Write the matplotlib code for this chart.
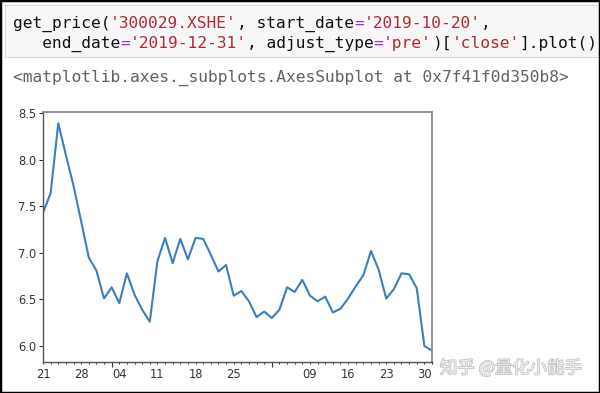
import matplotlib
matplotlib.use('Agg')
import matplotlib.pyplot as plt
import matplotlib.patheffects as pe
from matplotlib.patches import Rectangle
import pandas as pd

# ================================================================================== #
' Data '

dates = pd.bdate_range('2019-10-21', '2019-12-31')   # trading days shown on the axis
close = [7.43, 7.64, 8.39, 8.05, 7.72, 7.34, 6.95, 6.81, 6.51, 6.63,
         6.46, 6.78, 6.55, 6.39, 6.26, 6.91, 7.16, 6.89, 7.15, 6.93,
         7.16, 7.15, 6.98, 6.80, 6.87, 6.54, 6.59, 6.48, 6.31, 6.37,
         6.30, 6.39, 6.63, 6.58, 6.71, 6.54, 6.48, 6.53, 6.36, 6.40,
         6.51, 6.64, 6.76, 7.02, 6.82, 6.51, 6.61, 6.78, 6.77, 6.62,
         6.00, 5.95]
yticks = [6.0, 6.5, 7.0, 7.5, 8.0, 8.5]

code_line1 = [("get_price(", 'k'), ("'300029.XSHE'", 'r'), (", start_date", 'k'),
              ("=", 'p'), ("'2019-10-20'", 'r'), (",", 'k')]
code_line2 = [("   end_date", 'k'), ("=", 'p'), ("'2019-12-31'", 'r'), (", adjust_type", 'k'),
              ("=", 'p'), ("'pre'", 'r'), (")[", 'k'), ("'close'", 'r'), ("].plot()", 'k')]
out_line = "<matplotlib.axes._subplots.AxesSubplot at 0x7f41f0d350b8>"
watermark = "知乎 @量化小能手"

# ================================================================================== #
' Figure '

W, H = 600, 393
fig = plt.figure(figsize=(6.0, 3.93), dpi=100)
fig.patch.set_facecolor('white')

# notebook input cell
fig.patches.append(Rectangle((5 / W, 1 - 57 / H), 1.0, 52 / H, transform=fig.transFigure,
                             facecolor='#f7f7f7', edgecolor='#d6d6d6', lw=0.8))

colors = {'k': '#111111', 'r': '#b22b31', 'p': '#a52ecf'}
cw = 9.75 / W   # monospace char width in figure fraction
x0 = 12.7 / W


def put_line(parts, ypx):
  col = 0
  for s, c in parts:
    fig.text(x0 + col * cw, 1 - ypx / H, s, family='DejaVu Sans Mono', fontsize=11.66,
             color=colors[c], va='center_baseline', ha='left')
    col += len(s)


put_line(code_line1, 21.7)
put_line(code_line2, 41.7)
fig.text(x0, 1 - 76 / H, out_line, family='DejaVu Sans Mono', fontsize=11.66,
         color='#616161', va='center_baseline', ha='left')

# ================================================================================== #
' Plot '

ax = fig.add_axes([43 / W, 1 - 362 / H, 389 / W, 250 / H])
x = list(range(len(close)))
ax.plot(x, close, color='#3b7fbe', lw=1.5)
ax.set_xlim(0, len(close) - 1)
ax.set_yticks(yticks)
ax.set_yticklabels([f'{v:.1f}' for v in yticks])

# pandas-like date axis: month starts as major ticks, days as minor, Mondays labelled
month_start = [i for i in x if i > 0 and dates[i].month != dates[i - 1].month]
labels = []
for i in x:
  d = dates[i]
  if d.weekday() == 0 and i not in month_start:
    labels.append(d.strftime('%d'))
  else:
    labels.append('')
ax.set_xticks(month_start)
ax.set_xticklabels(['' for _ in month_start])
ax.set_xticks(x, minor=True)
ax.set_xticklabels(labels, minor=True)

ax.tick_params(axis='y', which='major', length=3, width=0.8, colors='#333333', labelsize=8.3, pad=2)
ax.tick_params(axis='x', which='major', length=3.5, width=0.8, colors='#333333')
ax.tick_params(axis='x', which='minor', length=1.6, width=0.8, colors='#333333', labelsize=8.3, pad=3)

for side in ['top', 'right']:
  ax.spines[side].set_color('#8a8a8a')
  ax.spines[side].set_linewidth(1.3)
for side in ['left', 'bottom']:
  ax.spines[side].set_color('#555555')
  ax.spines[side].set_linewidth(1.0)

# watermark
fig.text(440 / W, 1 - 368 / H, watermark, family=['Noto Sans CJK SC', 'DejaVu Sans'],
         fontsize=12.5, color='#f0f0f0', va='center', ha='left',
         path_effects=[pe.withStroke(linewidth=1.0, foreground='#bcbcbc')])

# screenshot frame
fig.patches.append(Rectangle((0, 0), 1, 1, transform=fig.transFigure,
                             fill=False, edgecolor='black', lw=2.5))

fig.savefig('out.png', dpi=100)
